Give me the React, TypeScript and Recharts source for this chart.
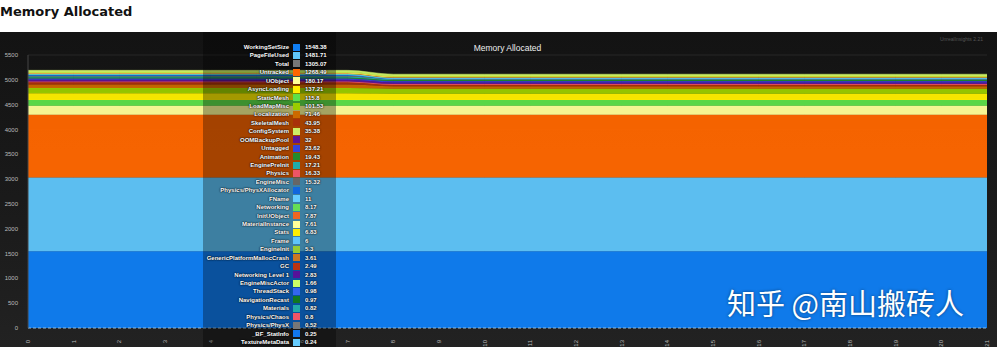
import React from "react";
import { AreaChart, Area, XAxis, YAxis, CartesianGrid, Tooltip } from "recharts";

// x positions along the bottom axis
const xLabels = ["0", "1", "2", "3", "4", "5", "6", "7", "8", "9", "10", "11", "12", "13", "14", "15", "16", "17", "18", "19", "20", "21"];

// series in the order the tooltip lists them
const seriesNames = [
  "WorkingSetSize", "PageFileUsed", "Total", "Untracked", "UObject", "AsyncLoading", "StaticMesh",
  "LoadMapMisc", "Localization", "SkeletalMesh", "ConfigSystem", "OOMBackupPool", "Untagged",
  "Animation", "EnginePreInit", "Physics", "EngineMisc", "Physics/PhysXAllocator", "FName",
  "Networking", "InitUObject", "MaterialInstance", "Stats", "Frame", "EngineInit",
  "GenericPlatformMallocCrash", "GC", "Networking Level 1", "EngineMiscActor", "ThreadStack",
  "NavigationRecast", "Materials", "Physics/Chaos", "Physics/PhysX", "_BF_StatInfo", "TextureMetaData",
];

const seriesColors = [
  "#0f7ef3", "#5fc5f9", "#777777", "#ff6700", "#ffff99", "#ffee00", "#5ee04a",
  "#9acc00", "#cc6a00", "#a8300a", "#ccee66", "#5d1494", "#3344dd",
  "#238a2e", "#22aaaa", "#ee5566", "#666666", "#1166dd", "#66ccff",
  "#66dd55", "#ee6622", "#ffff99", "#ffee00", "#5fc5f9", "#99cc33",
  "#cc7722", "#bb3311", "#551199", "#ccff66", "#3366ee",
  "#117722", "#22aaaa", "#ee5566", "#777777", "#1177ee", "#66ccff",
];

// values for x = 0..7 (as read in the tooltip at x = 4)
const valuesBefore = [
  1548.38, 1481.71, 1305.07, 1268.49, 180.17, 137.21, 115.8,
  101.53, 71.46, 43.95, 35.38, 32, 23.62,
  19.43, 17.21, 16.33, 15.32, 15, 11,
  8.17, 7.87, 7.61, 6.83, 6, 5.3,
  3.61, 2.49, 2.83, 1.66, 0.98,
  0.97, 0.82, 0.8, 0.52, 0.25, 0.24,
];

// values for x = 8..21 (after the drop)
const valuesAfter = [
  1548.38, 1481.71, 1227.0, 1268.49, 180.17, 125.0, 115.8,
  101.53, 50.0, 25.0, 35.38, 32, 23.62,
  19.43, 17.21, 16.33, 5.0, 5.0, 6.0,
  8.17, 7.87, 7.61, 6.83, 6, 5.3,
  3.61, 2.49, 2.83, 1.66, 0.98,
  0.97, 0.82, 0.8, 0.52, 0.25, 0.24,
];

// bottom-to-top drawing order ("Total" is not stacked)
const stackOrder = [
  "WorkingSetSize", "PageFileUsed", "Untracked", "UObject", "StaticMesh", "AsyncLoading",
  "LoadMapMisc", "Localization", "SkeletalMesh", "GC", "Physics", "Physics/Chaos",
  "OOMBackupPool", "Untagged", "Networking Level 1", "ThreadStack", "Animation",
  "NavigationRecast", "EnginePreInit", "Materials", "EngineMisc", "Physics/PhysX",
  "Physics/PhysXAllocator", "_BF_StatInfo", "FName", "Frame", "TextureMetaData", "Networking",
  "InitUObject", "GenericPlatformMallocCrash", "MaterialInstance", "Stats", "EngineInit",
  "EngineMiscActor", "ConfigSystem",
];

const yTicks = [0, 500, 1000, 1500, 2000, 2500, 3000, 3500, 4000, 4500, 5000, 5500];
const gridValues = Array.from({ length: 56 }, (_, i) => i * 100);

const stepIndex = 8;
const hoverIndex = 4;

const rows = xLabels.map((x, i) => {
  const row: any = { x };
  seriesNames.forEach((name, k) => {
    row[name] = i < stepIndex ? valuesBefore[k] : valuesAfter[k];
  });
  return row;
});

const colorOf = (name: string) => seriesColors[seriesNames.indexOf(name)];

function MemoryTooltip(props: any) {
  const row = props.payload && props.payload.length ? props.payload[0].payload : rows[hoverIndex];
  return (
    <div
      style={{
        width: 133,
        height: 315,
        background: "rgba(0,0,0,0.33)",
        position: "relative",
        fontFamily: "'Liberation Sans', Arial, sans-serif",
        fontSize: 6,
        fontWeight: 700,
        color: "#fff",
        textShadow: "0 0 2px #000, 0 0 1px #000",
      }}
    >
      {seriesNames.map((name, k) => (
        <div
          key={name}
          style={{
            position: "absolute",
            top: 11 + k * 8.43,
            left: 0,
            width: 133,
            height: 8,
            display: "flex",
            alignItems: "center",
            whiteSpace: "nowrap",
          }}
        >
          <span style={{ width: 86, textAlign: "right" }}>{name}</span>
          <span style={{ width: 7, height: 7, marginLeft: 4, background: seriesColors[k], flex: "none" }} />
          <span style={{ marginLeft: 5 }}>{String(row[name])}</span>
        </div>
      ))}
    </div>
  );
}

const XTick = ({ x, y, payload }: any) => (
  <g transform={`translate(${x},${y + 4})`}>
    <text transform="rotate(-90)" textAnchor="end" dy={2} fontSize={6} fill="#bbb" fontFamily="'Liberation Sans', Arial, sans-serif">
      {payload.value}
    </text>
  </g>
);

export default function App() {
  return (
    <div style={{ position: "relative", width: 1000, height: 347, background: "#fff", overflow: "hidden" }}>
      <style>{"body{margin:0}"}</style>
      <div
        style={{
          position: "absolute",
          left: 0,
          top: 4,
          fontFamily: "'DejaVu Sans', Verdana, sans-serif",
          fontWeight: 700,
          fontSize: 13,
          color: "#111",
        }}
      >
        Memory Allocated
      </div>
      <div
        style={{
          position: "absolute",
          left: 0,
          top: 32,
          width: 997,
          height: 315,
          background: "linear-gradient(180deg, #131313 0%, #1b1b1b 60%, #222 100%)",
        }}
      >
        <AreaChart width={997} height={315} data={rows} margin={{ top: 23, right: 10, bottom: 0, left: 0 }}>
          <CartesianGrid horizontal vertical={false} horizontalValues={gridValues} stroke="#262626" strokeWidth={1} />
          <XAxis
            dataKey="x"
            height={19}
            interval={0}
            tick={<XTick />}
            tickLine={false}
            axisLine={{ stroke: "#8fb8d8", strokeDasharray: "3 2" }}
          />
          <YAxis
            width={28}
            domain={[0, 5500]}
            ticks={yTicks}
            tickLine={false}
            axisLine={{ stroke: "#444" }}
            tick={{ fontSize: 6, fill: "#bbb", fontFamily: "'Liberation Sans', Arial, sans-serif" }}
            tickMargin={4}
          />
          {stackOrder.map((name) => (
            <Area
              key={name}
              type="monotone"
              dataKey={name}
              stackId="mem"
              stroke={colorOf(name)}
              strokeWidth={0.5}
              fill={colorOf(name)}
              fillOpacity={0.96}
              dot={false}
              activeDot={false}
              isAnimationActive={false}
            />
          ))}
          <Tooltip
            active
            defaultIndex={hoverIndex}
            cursor={false}
            position={{ x: 203, y: 0 }}
            content={<MemoryTooltip />}
            isAnimationActive={false}
            wrapperStyle={{ outline: "none" }}
          />
        </AreaChart>
        <div
          style={{
            position: "absolute",
            left: 0,
            width: 1015,
            top: 11,
            textAlign: "center",
            fontFamily: "'Liberation Sans', Arial, sans-serif",
            fontSize: 8.5,
            color: "#eee",
          }}
        >
          Memory Allocated
        </div>
        <div
          style={{
            position: "absolute",
            right: 14,
            top: 4,
            fontFamily: "'Liberation Sans', Arial, sans-serif",
            fontSize: 5,
            color: "#555",
          }}
        >
          UnrealInsights 2.21
        </div>
        <div
          style={{
            position: "absolute",
            left: 727,
            top: 253,
            fontFamily: "'Noto Sans CJK SC', sans-serif",
            fontSize: 29,
            lineHeight: "34px",
            color: "#fff",
            whiteSpace: "nowrap",
            textShadow: "0 0 3px rgba(0,0,0,0.5)",
          }}
        >
          知乎 @南山搬砖人
        </div>
      </div>
    </div>
  );
}
